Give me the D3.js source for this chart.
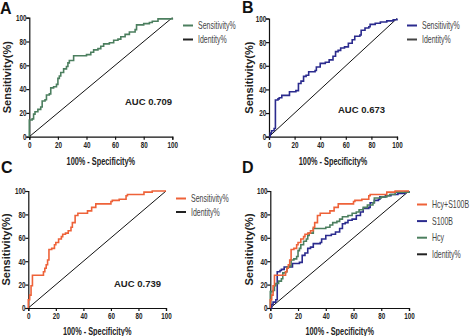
<!DOCTYPE html>
<html>
<head>
<meta charset="utf-8">
<script src="https://cdn.jsdelivr.net/npm/d3@7"></script>
<style>
  body { margin: 0; background: #fff; }
  svg { display: block; }
  .tick text { font-family: "Liberation Sans", Arial, sans-serif; font-weight: bold; font-size: 9px; fill: #222; }
  .axtitle { font-family: "Liberation Sans", Arial, sans-serif; font-weight: bold; font-size: 10.5px; fill: #222; }
  .ytitle { font-family: "Liberation Sans", Arial, sans-serif; font-weight: bold; font-size: 11px; fill: #222; }
  .leg { font-family: "Liberation Sans", Arial, sans-serif; font-size: 10px; fill: #444; }
  .auc { font-family: "Liberation Sans", Arial, sans-serif; font-weight: bold; font-size: 9.5px; fill: #222; }
  .letter { font-family: "Liberation Sans", Arial, sans-serif; font-weight: bold; font-size: 16px; fill: #111; }
</style>
</head>
<body>
<script>
// ROC data: 100% - specificity (x) and sensitivity (y)
var hcyX = [0, 0, 2, 3, 4, 6, 8, 9, 11, 12, 14, 15, 17, 19, 20, 21, 22, 24, 26, 27, 28, 31, 40, 43, 45, 48, 50, 52, 56, 59, 62, 64, 67, 70, 74, 75, 80, 84, 86, 90, 100];
var hcyY = [0, 14, 15, 19, 21, 23, 25, 30, 31, 35, 36, 41, 42, 44, 49, 51, 54, 57, 59, 62, 64, 68, 69, 71, 73, 74, 76, 78, 79, 81, 82, 84, 86, 88, 90, 94, 95, 96, 97, 99, 100];

var s100bX = [0, 1, 2, 4, 5, 5, 7, 8, 10, 16, 21, 23, 25, 27, 29, 31, 36, 37, 40, 44, 47, 50, 52, 54, 56, 59, 62, 65, 67, 71, 72, 75, 78, 79, 83, 87, 92, 97, 100];
var s100bY = [0, 3, 5, 7, 22, 31, 32, 33, 35, 38, 39, 45, 47, 51, 52, 55, 56, 59, 62, 63, 65, 68, 72, 73, 75, 76, 79, 82, 85, 86, 90, 92, 93, 95, 96, 97, 98, 99, 100];

var comboX = [0, 0, 1, 2, 3, 11, 12, 13, 14, 15, 17, 19, 20, 22, 24, 25, 27, 29, 31, 32, 34, 36, 38, 43, 46, 49, 52, 60, 61, 66, 71, 72, 82, 84, 90, 100];
var comboY = [0, 7, 11, 19, 28, 31, 34, 37, 41, 50, 51, 54, 56, 59, 61, 63, 64, 66, 69, 73, 79, 81, 81, 83, 86, 89, 89, 91, 92, 93, 96, 97, 97, 99, 100, 100];

var identX = [0, 100];
var identY = [0, 100];

var tickVals = [0, 20, 40, 60, 80, 100];

var green = "#4c7f5f", blue = "#2b2b8e", orange = "#ee6239", black = "#111";

function pts(xs, ys) { return xs.map(function(x, i) { return [x, ys[i]]; }); }

var svg = d3.select("body").append("svg").attr("width", 474).attr("height", 336);

var panels = [
  { letter: "A", lx: 0, ly: 14, clip: [0, 0, 238, 168], x0: 29.3, x1: 172.3, y0: 136.7, y1: 17.7,
    curves: [{ d: pts(hcyX, hcyY), c: green }],
    legend: [{ t: "Sensitivity%", c: green }, { t: "Identity%", c: "#222" }], legX: 183, legY: 25.5, legStep: 14,
    auc: "AUC 0.709", aucX: 172, aucY: 104.5, ytx: 7, xty: 164.5 },
  { letter: "B", lx: 242, ly: 13, clip: [238, 0, 236, 168], x0: 269, x1: 397, y0: 136.7, y1: 18.5,
    curves: [{ d: pts(s100bX, s100bY), c: blue }],
    legend: [{ t: "Sensitivity%", c: blue }, { t: "Identity%", c: "#444" }], legX: 407, legY: 25.5, legStep: 14,
    auc: "AUC 0.673", aucX: 385, aucY: 113, ytx: 249, xty: 164.5 },
  { letter: "C", lx: 1, ly: 173, clip: [0, 168, 238, 168], x0: 28.3, x1: 166, y0: 308, y1: 191,
    curves: [{ d: pts(comboX, comboY), c: orange }],
    legend: [{ t: "Sensitivity%", c: orange }, { t: "Identity%", c: "#222" }], legX: 176, legY: 198.5, legStep: 13.5,
    auc: "AUC 0.739", aucX: 161, aucY: 287, ytx: 6, xty: 334.5 },
  { letter: "D", lx: 242, ly: 173, clip: [238, 168, 236, 168], x0: 270.3, x1: 409, y0: 308, y1: 191,
    curves: [{ d: pts(s100bX, s100bY), c: blue }, { d: pts(hcyX, hcyY), c: green }, { d: pts(comboX, comboY), c: orange }],
    legend: [{ t: "Hcy+S100B", c: orange }, { t: "S100B", c: blue }, { t: "Hcy", c: green }, { t: "Identity%", c: "#222" }],
    legX: 417, legY: 204.5, legStep: 16.6, auc: null, ytx: 249, xty: 334.5 }
];

// the source picture is squeezed sideways, so horizontal text is narrowed
var squeeze = "scale(0.7,1)";

panels.forEach(function(p, i) {
  var clipId = "clip" + i;
  svg.append("clipPath").attr("id", clipId).append("rect")
    .attr("x", p.clip[0]).attr("y", p.clip[1]).attr("width", p.clip[2]).attr("height", p.clip[3]);
  var g = svg.append("g").attr("clip-path", "url(#" + clipId + ")");

  var x = d3.scaleLinear().domain([0, 100]).range([p.x0, p.x1]);
  var y = d3.scaleLinear().domain([0, 100]).range([p.y0, p.y1]);

  function styleAxis(a) {
    a.selectAll("path,line").attr("stroke", "#111").attr("stroke-width", 1.2);
    a.selectAll("text").attr("transform", squeeze);
  }

  g.append("g").attr("transform", "translate(0," + p.y0 + ")")
    .call(d3.axisBottom(x).tickValues(tickVals).tickSize(3).tickPadding(2))
    .call(styleAxis);
  g.append("g").attr("transform", "translate(" + p.x0 + ",0)")
    .call(d3.axisLeft(y).tickValues(tickVals).tickSize(3).tickPadding(1))
    .call(styleAxis);

  var line = d3.line().x(function(d) { return x(d[0]); }).y(function(d) { return y(d[1]); });

  g.append("path").attr("d", line(pts(identX, identY)))
    .attr("fill", "none").attr("stroke", black).attr("stroke-width", 1);

  var step = d3.line().curve(d3.curveStepAfter).x(function(d) { return x(d[0]); }).y(function(d) { return y(d[1]); });
  p.curves.forEach(function(c) {
    g.append("path").attr("d", step(c.d))
      .attr("fill", "none").attr("stroke", c.c).attr("stroke-width", 1.6);
  });

  p.legend.forEach(function(l, j) {
    var yy = p.legY + j * p.legStep;
    g.append("line").attr("x1", p.legX).attr("x2", p.legX + 10).attr("y1", yy).attr("y2", yy)
      .attr("stroke", l.c).attr("stroke-width", 2);
    g.append("text").attr("class", "leg")
      .attr("transform", "translate(" + (p.legX + 15) + "," + (yy + 3.5) + ") " + squeeze)
      .text(l.t);
  });

  if (p.auc) {
    g.append("text").attr("class", "auc").attr("x", p.aucX).attr("y", p.aucY)
      .attr("text-anchor", "end").text(p.auc);
  }

  g.append("text").attr("class", "axtitle").attr("text-anchor", "middle")
    .attr("transform", "translate(" + ((p.x0 + p.x1) / 2) + "," + p.xty + ") " + squeeze)
    .text("100% - Specificity%");
  g.append("text").attr("class", "ytitle").attr("text-anchor", "middle")
    .attr("transform", "translate(" + (p.ytx + 4) + "," + ((p.y0 + p.y1) / 2) + ") rotate(-90)")
    .text("Sensitivity(%)");

  svg.append("text").attr("class", "letter").attr("x", p.lx).attr("y", p.ly).text(p.letter);
});
</script>
</body>
</html>
